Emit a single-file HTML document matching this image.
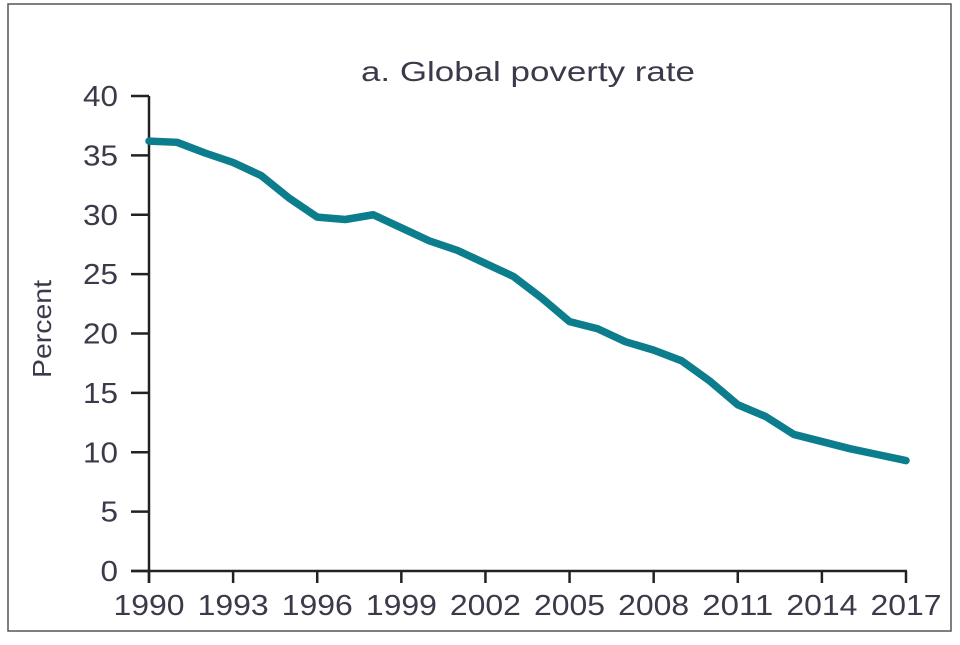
<!DOCTYPE html>
<html><head><meta charset="utf-8"><style>
body{margin:0;background:#fff}
svg text{font-family:"Liberation Sans",sans-serif;fill:#3a3a4a}
</style></head><body>
<svg width="960" height="640">
<rect x="8" y="4" width="943" height="627" fill="none" stroke="#555" stroke-width="1.5"/>
<text x="361" y="81" font-size="28" textLength="334" lengthAdjust="spacingAndGlyphs">a. Global poverty rate</text>
<text transform="translate(51,329) rotate(-90)" font-size="26" text-anchor="middle" textLength="98" lengthAdjust="spacingAndGlyphs">Percent</text>
<g id="axes"></g>
<path id="line" fill="none" stroke="#0b7d8c" stroke-width="7.5" stroke-linejoin="round" stroke-linecap="round"/>
</svg>
<script>
const years=[1990,1991,1992,1993,1994,1995,1996,1997,1998,1999,2000,2001,2002,2003,2004,2005,2006,2007,2008,2009,2010,2011,2012,2013,2014,2015,2016,2017];
const rates=[36.2,36.1,35.2,34.4,33.3,31.4,29.8,29.6,30.0,28.9,27.8,27.0,25.9,24.8,23.0,21.0,20.4,19.3,18.6,17.7,16.0,14.0,13.0,11.5,10.9,10.3,9.8,9.3];
const xTicks=[1990,1993,1996,1999,2002,2005,2008,2011,2014,2017];
const yTicks=[0,5,10,15,20,25,30,35,40];
const X=v=>149+(v-1990)*(906-149)/27;
const Y=v=>571-v*(571-96)/40;
const NS="http://www.w3.org/2000/svg";
const g=document.getElementById('axes');
function el(t,a){const e=document.createElementNS(NS,t);for(const k in a)e.setAttribute(k,a[k]);g.appendChild(e);return e;}
const ya=el('line',{x1:149,y1:Y(40),x2:149,y2:583,stroke:'#222','stroke-width':2.5});


const xa=el('line',{x1:131,y1:571,x2:907,y2:571,stroke:'#222','stroke-width':2.5});


yTicks.forEach(v=>{
  const t=el('line',{x1:131,y1:Y(v),x2:149,y2:Y(v),stroke:'#222','stroke-width':2.5});
  
  
  const s=String(v);
  const l=el('text',{x:118,y:Y(v)+10,'font-size':29,'text-anchor':'end',textLength:s.length*17.5,lengthAdjust:'spacingAndGlyphs'});
  l.textContent=s;
  
  
});
xTicks.forEach(v=>{
  const t=el('line',{x1:X(v),y1:571,x2:X(v),y2:583,stroke:'#222','stroke-width':2.5});
  
  
  const l=el('text',{x:X(v),y:615,'font-size':29,'text-anchor':'middle',textLength:71,lengthAdjust:'spacingAndGlyphs'});
  l.textContent=v;
  
  
});
document.getElementById('line').setAttribute('d',years.map((y,i)=>(i?'L':'M')+X(y)+','+Y(rates[i])).join(''));
</script>
</body></html>
